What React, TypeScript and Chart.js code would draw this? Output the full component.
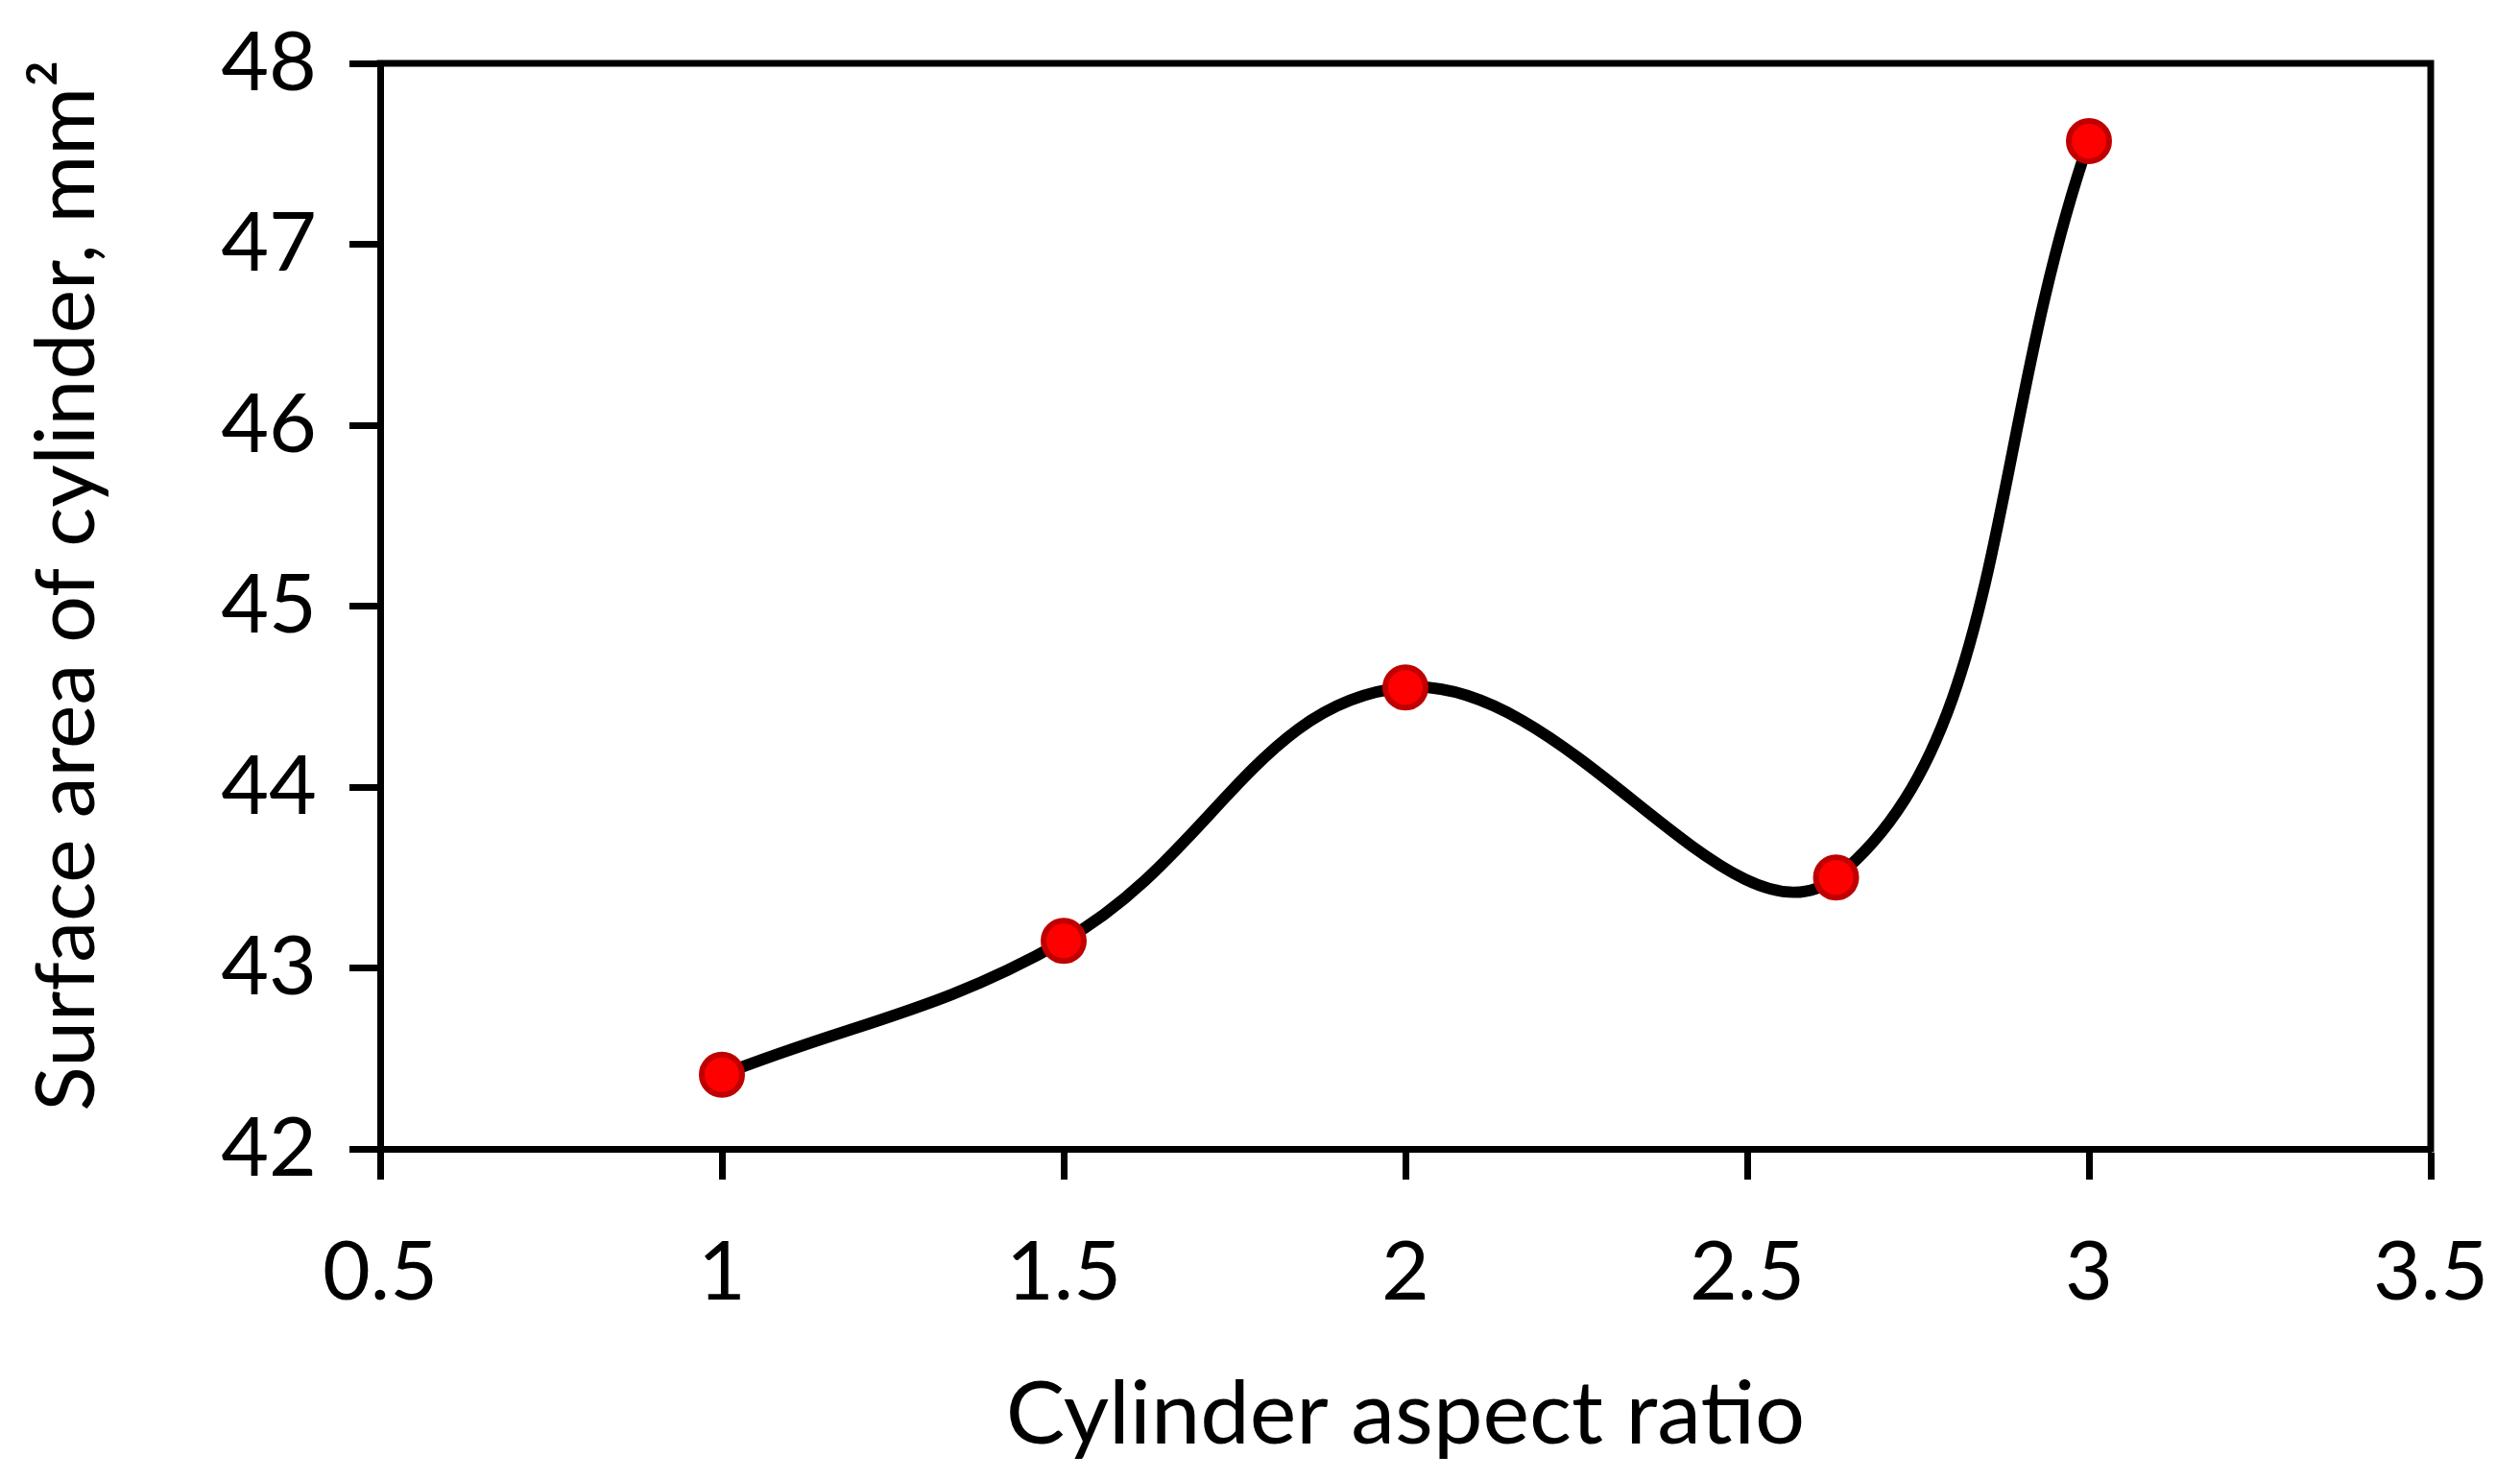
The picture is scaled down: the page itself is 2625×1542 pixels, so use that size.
import React, { useEffect, useRef } from "react";
import { Chart, registerables } from "chart.js";

Chart.register(...registerables);

const aspectRatios = [1, 1.5, 2, 2.63, 3];
const surfaceAreas = [42.41, 43.15, 44.55, 43.5, 47.57];
const xTitle = "Cylinder aspect ratio";
const yTitle = "Surface area of cylinder, mm\u00B2";
const xRange = [0.5, 3.5, 0.5];
const yRange = [42, 48, 1];

const FONT = "Lato";

export default function App() {
  const ref = useRef<HTMLCanvasElement>(null);

  useEffect(() => {
    if (!ref.current) return;
    const framePlugin = {
      id: "frameAndTitles",
      afterDraw(chart: any) {
        const { ctx, chartArea: a } = chart;
        ctx.save();
        ctx.strokeStyle = "#000";
        ctx.lineWidth = 7;
        ctx.lineCap = "square";
        ctx.beginPath();
        ctx.moveTo(a.left, a.top);
        ctx.lineTo(a.right, a.top);
        ctx.lineTo(a.right, a.bottom);
        ctx.stroke();

        ctx.fillStyle = "#000";
        ctx.textAlign = "center";
        ctx.textBaseline = "alphabetic";
        ctx.font = `92px ${FONT}`;
        ctx.fillText(xTitle, (a.left + a.right) / 2, a.bottom + 307);

        ctx.translate(a.left - 298, a.top + 544);
        ctx.rotate(-Math.PI / 2);
        ctx.font = `86px ${FONT}`;
        ctx.fillText(yTitle, 0, 0);
        ctx.restore();
      },
    };

    const noPad = (s: any) => {
      s.paddingTop = 0;
      s.paddingBottom = 0;
      s.paddingLeft = 0;
      s.paddingRight = 0;
    };

    const chart = new Chart(ref.current, {
      type: "line",
      data: {
        datasets: [
          {
            data: aspectRatios.map((x, i) => ({ x, y: surfaceAreas[i] })),
            borderColor: "#000",
            borderWidth: 12,
            tension: 0.4,
            cubicInterpolationMode: "default",
            pointRadius: 21,
            pointBorderWidth: 6,
            pointBackgroundColor: "#FF0000",
            pointBorderColor: "#C00000",
            fill: false,
            clip: false as any,
          },
        ],
      },
      options: {
        animation: false,
        responsive: false,
        devicePixelRatio: 1,
        layout: { padding: { top: 66, right: 93, left: 0, bottom: 0 } },
        plugins: {
          legend: { display: false },
          tooltip: { enabled: false },
        },
        scales: {
          x: {
            type: "linear",
            min: xRange[0],
            max: xRange[1],
            afterFit: (s: any) => {
              s.height = 345;
              noPad(s);
            },
            ticks: {
              stepSize: xRange[2],
              color: "#000",
              font: { family: FONT, size: 86 },
              padding: 46,
              callback: (v: any) => String(Number(v)),
            },
            grid: {
              drawOnChartArea: false,
              drawTicks: true,
              tickLength: 32,
              tickWidth: 7,
              tickColor: "#000",
            },
            border: { display: true, color: "#000", width: 7 },
            title: { display: false },
          },
          y: {
            type: "linear",
            min: yRange[0],
            max: yRange[1],
            afterFit: (s: any) => {
              s.width = 396;
              noPad(s);
            },
            ticks: {
              stepSize: yRange[2],
              color: "#000",
              font: { family: FONT, size: 86 },
              padding: 34,
            },
            grid: {
              drawOnChartArea: false,
              drawTicks: true,
              tickLength: 32,
              tickWidth: 7,
              tickColor: "#000",
            },
            border: { display: true, color: "#000", width: 7 },
            title: { display: false },
          },
        },
      },
      plugins: [framePlugin],
    });
    return () => chart.destroy();
  }, []);

  return (
    <div
      style={{
        position: "fixed",
        left: 0,
        top: 0,
        width: 2625,
        height: 1542,
        background: "#fff",
      }}
    >
      <canvas ref={ref} width={2625} height={1542} style={{ width: 2625, height: 1542, display: "block" }} />
    </div>
  );
}
